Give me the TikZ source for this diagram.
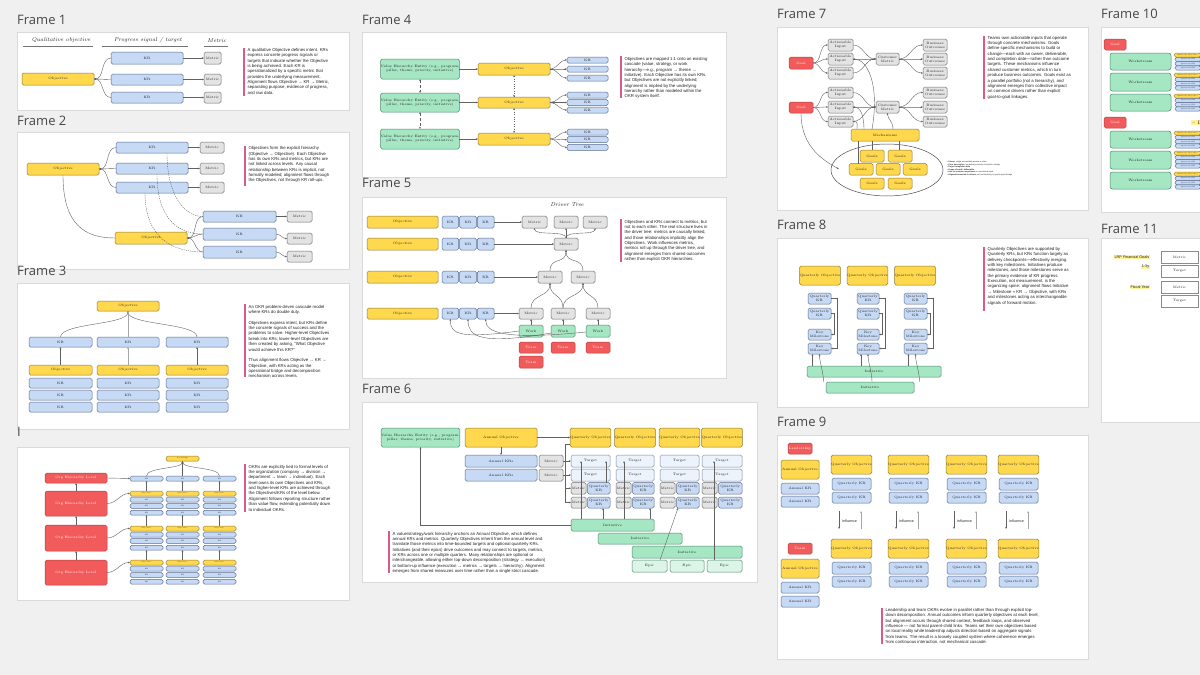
\documentclass[tikz,border=0pt]{standalone}
\usepackage{fontspec}
\newfontfamily\titlefont{Open Sans}
\newfontfamily\descfont{Liberation Sans}
\usetikzlibrary{arrows.meta,calc,shapes.geometric}
\definecolor{bgc}{HTML}{F0F0F0}
\definecolor{pnlb}{HTML}{DADADA}
\definecolor{yelf}{HTML}{FFD84E}
\definecolor{yeld}{HTML}{8C7A36}
\definecolor{bluf}{HTML}{C6D9F5}
\definecolor{blud}{HTML}{5C6C8C}
\definecolor{gryf}{HTML}{E3E3E3}
\definecolor{gryd}{HTML}{6E6E6E}
\definecolor{grnf}{HTML}{A5E6C3}
\definecolor{grnd}{HTML}{4E8C6C}
\definecolor{redf}{HTML}{F25B5B}
\definecolor{redd}{HTML}{B04040}
\definecolor{tgtf}{HTML}{EDF3FD}
\definecolor{epcf}{HTML}{DDF5E8}
\definecolor{pinkb}{HTML}{DB5A86}
\definecolor{hil}{HTML}{FFF29A}
\definecolor{txtc}{HTML}{222222}
\newcommand\tinyf{\fontsize{1.7}{2}\selectfont}
\tikzset{
 bx/.style={draw, rounded corners=1.6pt, inner sep=0pt, outer sep=0pt, line width=0.5pt, align=center, text=txtc, font=\fontsize{3.4}{3.9}\selectfont},
 sobj/.style={bx, fill=yelf, draw=yeld},
 skr/.style={bx, fill=bluf, draw=blud},
 smet/.style={bx, fill=gryf, draw=gryd},
 sgrn/.style={bx, fill=grnf, draw=grnd},
 sred/.style={bx, fill=redf, draw=redd, text=white},
 stgt/.style={bx, fill=tgtf, draw=blud!80},
 sepc/.style={bx, fill=epcf, draw=grnd},
 splain/.style={bx, rounded corners=0pt, fill=white, draw=gryd!80},
 panel/.style={fill=white, draw=pnlb, line width=0.5pt},
 ftitle/.style={anchor=west, inner sep=0pt, text=black!72, font=\titlefont\fontsize{13}{15}\selectfont},
 desc/.style={anchor=north west, inner sep=0pt, align=left, text=txtc, font=\descfont\fontsize{4.3}{5.35}\selectfont},
 dbar/.style={draw=pinkb, line width=1.3pt},
 con/.style={draw=black!62, line width=0.4pt},
 arr/.style={con, -{Stealth[length=2.2pt,width=1.8pt]}},
 darr/.style={con, {Stealth[length=2.2pt,width=1.8pt]}-{Stealth[length=2.2pt,width=1.8pt]}},
 arrthk/.style={draw=black!35, line width=0.9pt, -{Stealth[length=2.2pt,width=1.8pt]}, },
 hdr/.style={inner sep=0pt, text=txtc, font=\itshape\fontsize{5.6}{6}\selectfont},
 hline/.style={draw=black!55, line width=0.8pt},
 hl/.style={fill=hil, inner sep=0.6pt, text=txtc, font=\descfont\fontsize{3.8}{4.5}\selectfont},
}
\newcommand\bx[7]{\node[#2,minimum width={(#5)-(#3)},minimum height={(#6)-(#4)}] (#1) at ({((#3)+(#5))/2},{((#4)+(#6))/2}) {#7};}
\newcommand\descr[6]{\draw[dbar] (#2,#3) -- (#2,#4); \node[desc] (#1) at ({#2+3.5},{#5-1.8}) {#6};}
\begin{document}
\begin{tikzpicture}[x=1pt,y=-1pt]
\useasboundingbox (0,0) rectangle (1200,675);
\fill[bgc] (0,0) rectangle (1200,675);

%% ---------------- Frame 1
\draw[panel] (17,32) rectangle (349,110);
\node[ftitle] (ft1) at (17,20) {Frame 1};
\node[hdr] (h1a) at (61,40.5) {Qualitative objective};
\node[hdr] (h1b) at (148,40.5) {Progress signal / target};
\node[hdr] (h1c) at (217,40.5) {Metric};
\draw[hline] (23,46) -- (93,46);
\draw[hline] (102,46) -- (188,46);
\draw[hline] (204,46) -- (228,46);
\bx{o1}{sobj}{22}{73}{94}{85}{Objective}
\bx{k1a}{skr}{111}{52}{183}{64}{KR}
\bx{k1b}{skr}{111}{74}{183}{85}{KR}
\bx{k1c}{skr}{111}{92}{183}{103}{KR}
\bx{m1a}{smet}{204}{52}{221}{64}{Metric}
\bx{m1b}{smet}{204}{74}{221}{85}{Metric}
\bx{m1c}{smet}{204}{92}{221}{103}{Metric}
\foreach \k in {a,b,c}{\draw[arr] (k1\k.west) to[out=180,in=0] (o1.east); \draw[arr] (k1\k.east) -- (m1\k.west);}
\descr{d1}{244}{48}{96}{50}{A qualitative Objective defines intent. KRs\\express concrete progress signals or\\targets that indicate whether the Objective\\is being achieved. Each KR is\\operationalized by a specific metric that\\provides the underlying measurement.\\Alignment flows Objective → KR → Metric,\\separating purpose, evidence of progress,\\and raw data.}

%% ---------------- Frame 2
\draw[panel] (17,132) rectangle (349,269);
\node[ftitle] (ft2) at (17,120.5) {Frame 2};
\bx{o2a}{sobj}{27}{163}{99}{175}{Objective}
\bx{k2a}{skr}{116}{142}{188}{153}{KR}
\bx{k2b}{skr}{116}{163}{188}{174}{KR}
\bx{k2c}{skr}{116}{182}{188}{193}{KR}
\bx{m2a}{smet}{200}{142}{224}{153}{Metric}
\bx{m2b}{smet}{200}{163}{224}{174}{Metric}
\bx{m2c}{smet}{200}{182}{224}{193}{Metric}
\bx{o2b}{sobj}{115}{232}{187}{244}{Objective}
\bx{k2d}{skr}{203}{211}{276}{222}{KR}
\bx{k2e}{skr}{203}{228}{276}{240}{KR}
\bx{k2f}{skr}{203}{246}{276}{258}{KR}
\bx{m2d}{smet}{287}{211}{312}{222}{Metric}
\bx{m2e}{smet}{287}{233}{312}{244}{Metric}
\bx{m2f}{smet}{287}{251}{312}{262}{Metric}
\foreach \k in {a,b,c}{\draw[arr] (k2\k.west) to[out=180,in=0] (o2a.east); \draw[arr] (k2\k.east) -- (m2\k.west);}
\foreach \k in {d,e,f}{\draw[arr] (k2\k.west) to[out=180,in=0] (o2b.east); \draw[arr] (k2\k.east) to[out=0,in=180] (m2\k.west);}
\draw[con] (o2a.south) .. controls +(0,50) and +(-30,0) .. (o2b.west);
\draw[con,dash pattern=on 1.2pt off 1pt] ($(k2a.south)+(15,0)$) .. controls +(0,40) and +(-20,0) .. (k2d.west);
\draw[con,dash pattern=on 1.2pt off 1pt] ($(k2b.south)+(5,0)$) .. controls +(0,45) and +(-25,0) .. (k2e.west);
\draw[con,dash pattern=on 1.2pt off 1pt] ($(k2c.south)+(-7,0)$) .. controls +(0,45) and +(-30,0) .. (k2f.west);
\descr{d2}{245}{146}{186}{148.3}{Objectives form the explicit hierarchy\\(Objective → Objective). Each Objective\\has its own KRs and metrics, but KRs are\\not linked across levels. Any causal\\relationship between KRs is implicit, not\\formally modeled; alignment flows through\\the Objectives, not through KR roll-ups.}

%% ---------------- Frame 3
\draw[panel] (17,283) rectangle (349,429);
\node[ftitle] (ft3) at (17,271) {Frame 3};
\bx{o3}{sobj}{97}{301}{159}{311}{Objective}
\foreach \n/\xa/\xb in {a/29/92,b/97/159,c/166/228}{
 \bx{k3\n}{skr}{\xa}{337}{\xb}{347}{KR}
 \bx{p3\n}{sobj}{\xa}{365}{\xb}{375}{Objective}
 \bx{k3\n1}{skr}{\xa}{378}{\xb}{388}{KR}
 \bx{k3\n2}{skr}{\xa}{390}{\xb}{400}{KR}
 \bx{k3\n3}{skr}{\xa}{402}{\xb}{412}{KR}
}
\draw[arr] (k3a.north) .. controls +(0,-14) and +(0,14) .. (o3.south);
\draw[arr] (k3c.north) .. controls +(0,-14) and +(0,14) .. (o3.south);
\draw[arrthk] (k3b.north) -- (o3.south);
\draw[arr] (p3a.north) -- (k3a.south);
\draw[arrthk] (p3b.north) -- (k3b.south);
\draw[arr] (p3c.north) -- (k3c.south);
\descr{d3}{245}{304}{377}{306.7}{An OKR problem-driven cascade model\\where KRs do double duty.\\[5.35pt]Objectives express intent, but KRs define\\the concrete signals of success and the\\problems to solve. Higher-level Objectives\\break into KRs; lower-level Objectives are\\then created by asking, “What Objective\\would achieve this KR?”\\[5.35pt]Thus alignment flows Objective → KR →\\Objective, with KRs acting as the\\operational bridge and decomposition\\mechanism across levels.}

%% ---------------- Frame I
\draw[panel] (17,447) rectangle (349,600);
\node[ftitle] (ftI) at (17,432) {I};
\bx{tI}{sobj}{166}{456}{199}{461}{\tinyf Leadership}
\bx{rI1}{sred}{45}{473}{107}{483}{Org Hierarchy Level}
\bx{rI2}{sred}{45}{491}{107}{516}{Org Hierarchy Level}
\bx{rI3}{sred}{45}{525}{107}{551}{Org Hierarchy Level}
\bx{rI4}{sred}{45}{560}{107}{585}{Org Hierarchy Level}
\foreach \n/\xa/\xb in {1/130/163,2/166/199,3/203/236}{
 \bx{kI0\n}{skr}{\xa}{476}{\xb}{481}{\tinyf KR}
 \foreach \g/\ya in {1/491,2/526,3/560}{
  \bx{oI\g\n}{sobj}{\xa}{\ya}{\xb}{\ya+5}{\tinyf Objective}
  \bx{kI\g\n1}{skr}{\xa}{\ya+6}{\xb}{\ya+11}{\tinyf KR}
  \bx{kI\g\n2}{skr}{\xa}{\ya+12.7}{\xb}{\ya+17.3}{\tinyf KR}
  \bx{kI\g\n3}{skr}{\xa}{\ya+19.3}{\xb}{\ya+24}{\tinyf KR}
 }
 \draw[arr] (oI1\n.north) -- (kI0\n.south);
 \draw[arr] (oI2\n.north) -- (kI1\n3.south);
 \draw[arr] (oI3\n.north) -- (kI2\n3.south);
}
\draw[arr] (kI01.north) .. controls +(0,-9) and +(0,8) .. (tI.south);
\draw[arr] (kI02.north) -- (tI.south);
\draw[arr] (kI03.north) .. controls +(0,-9) and +(0,8) .. (tI.south);
\draw[arr] (rI1.east) -- (kI01.west);
\draw[arr] (rI2.east) to[out=0,in=180] (oI11.west);
\draw[arr] (rI3.east) to[out=0,in=180] (oI21.west);
\draw[arr] (rI4.east) to[out=0,in=180] (oI31.west);
\draw[arr] (rI2.north) -- (rI1.south);
\draw[arr] (rI3.north) -- (rI2.south);
\draw[arr] (rI4.north) -- (rI3.south);
\descr{dI}{245}{464}{512}{466.7}{OKRs are explicitly tied to formal levels of\\the organization (company → division →\\department → team → individual). Each\\level owns its own Objectives and KRs,\\and higher-level KRs are achieved through\\the Objectives/KRs of the level below.\\Alignment follows reporting structure rather\\than value flow, extending potentially down\\to individual OKRs.}

%% ---------------- Frame 4
\draw[panel] (362,32) rectangle (726,177);
\node[ftitle] (ft4) at (362,20) {Frame 4};
\foreach \r/\ya/\yb/\oa/\ob in {a/59/79/63/75,b/93/112/97/108,c/129/149/133/145}{
 \bx{g4\r}{sgrn}{384}{\ya}{456}{\yb}{Value Hierarchy Entity (e.g., program,\\pillar, theme, priority, initiative)}
 \bx{o4\r}{sobj}{478}{\oa}{550}{\ob}{Objective}
 \draw[arr] (g4\r.east) -- (o4\r.west);
}
\foreach \r/\i/\ya in {a/1/57,a/2/66,a/3/75,b/1/92,b/2/99.5,b/3/107,c/1/129,c/2/136.7,c/3/144.4}{
 \bx{k4\r\i}{skr}{567}{\ya}{608}{\ya+6}{KR}
 \draw[arr] (o4\r.east) to[out=0,in=180] (k4\r\i.west);
}
\draw[darr,densely dashed] (g4a.south) -- (g4b.north);
\draw[darr,densely dashed] (g4b.south) -- (g4c.north);
\draw[darr,dotted] (o4a.south) -- (o4b.north);
\draw[darr,dotted] (o4b.south) -- (o4c.north);
\descr{d4}{621}{56}{98}{59}{Objectives are mapped 1:1 onto an existing\\cascade (value, strategy, or work\\hierarchy—e.g., program → theme →\\initiative). Each Objective has its own KRs,\\but Objectives are not explicitly linked;\\alignment is implied by the underlying\\hierarchy rather than modeled within the\\OKR system itself.}

%% ---------------- Frame 5
\draw[panel] (362,197) rectangle (726,378);
\node[ftitle] (ft5) at (362,183) {Frame 5};
\node[hdr] (dt5) at (567,204.5) {Driver Tree};
\foreach \r/\ya/\yb in {a/216/228,b/238/250,c/271/283,d/308/319}{
 \bx{o5\r}{sobj}{367}{\ya}{438}{\yb}{Objective}
 \bx{k5\r1}{skr}{442}{\ya}{458.7}{\yb}{KR}
 \bx{k5\r2}{skr}{459.7}{\ya}{476.3}{\yb}{KR}
 \bx{k5\r3}{skr}{477.3}{\ya}{494}{\yb}{KR}
}
\bx{ma1}{smet}{522}{216}{547}{228}{Metric}
\bx{ma2}{smet}{554}{216}{578}{228}{Metric}
\bx{ma3}{smet}{583}{216}{607}{228}{Metric}
\bx{mb}{smet}{554}{238}{578}{250}{Metric}
\bx{mc1}{smet}{538}{271}{562}{283}{Metric}
\bx{mc2}{smet}{571}{271}{595}{283}{Metric}
\foreach \i/\xa/\xb in {1/519/543,2/551/575,3/586/610}{
 \bx{md\i}{smet}{\xa}{308}{\xb}{319}{Metric}
 \bx{w5\i}{sgrn}{\xa}{325}{\xb}{337}{Work}
 \bx{r5\i}{sred}{\xa}{342}{\xb}{353}{Team}
 \draw[arr] (w5\i.north) -- (md\i.south);
}
\bx{r54}{sred}{519}{356}{543}{368}{Team}
\draw[arr] (k5a3.east) -- (ma1.west);
\draw[arr] (k5b3.east) -- (mb.west);
\draw[arr] (k5c3.east) -- (mc1.west);
\draw[arr] (k5d3.east) -- (md1.west);
\draw[arr] (mb.north) .. controls +(0,-8) and +(0,8) .. (ma1.south);
\draw[arr] (mb.north) -- (ma2.south);
\draw[arr] (mb.north) .. controls +(0,-8) and +(0,8) .. (ma3.south);
\draw[arr] (mc1.north) .. controls +(0,-15) and +(0,15) .. (mb.south);
\draw[arr] (mc2.north) .. controls +(0,-15) and +(0,15) .. (mb.south);
\draw[arr] (md1.north) .. controls +(0,-14) and +(0,14) .. (mc1.south);
\draw[arr] (md2.north) .. controls +(0,-14) and +(0,14) .. (mc1.south);
\draw[arr] (md2.north) .. controls +(0,-14) and +(0,14) .. (mc2.south);
\draw[arr] (md3.north) .. controls +(0,-14) and +(0,14) .. (mc2.south);
\draw[arr] (w51.west) .. controls +(-60,8) and +(0,15) .. (k5d1.south);
\draw[arr] ($(w52.west)+(0,2)$) .. controls +(-70,12) and +(0,18) .. (k5d2.south);
\draw[arr] ($(w53.west)+(0,1)$) .. controls +(-80,8) and +(0,14) .. (k5d3.south);
\descr{d5}{621}{219}{262}{221.7}{Objectives and KRs connect to metrics, but\\not to each other. The real structure lives in\\the driver tree: metrics are causally linked,\\and those relationships implicitly align the\\Objectives. Work influences metrics,\\metrics roll up through the driver tree, and\\alignment emerges from shared outcomes\\rather than explicit OKR hierarchies.}

%% ---------------- Frame 6
\draw[panel] (362,402) rectangle (757,582);
\node[ftitle] (ft6) at (362,389) {Frame 6};
\bx{v6}{sgrn}{384}{428}{457}{447}{Value Hierarchy Entity (e.g., program,\\pillar, theme, priority, initiative)}
\bx{ao6}{sobj}{465}{428}{537}{447}{Annual Objective}
\bx{ak6a}{skr}{465}{455}{537}{467}{Annual KRs}
\bx{ak6b}{skr}{465}{469}{537}{481}{Annual KRs}
\bx{am6a}{smet}{539}{455}{563}{467}{Metric}
\bx{am6b}{smet}{539}{469}{563}{481}{Metric}
\foreach \c/\xa/\xb in {1/571/610,2/616/654,3/660/699,4/702/742}{
 \bx{q6\c}{sobj}{\xa}{428}{\xb}{447}{Quarterly Objective}
 \bx{t6\c A}{stgt}{\xa}{455}{\xb}{467}{Target}
 \bx{t6\c B}{stgt}{\xa}{469}{\xb}{481}{Target}
 \bx{qm6\c A}{smet}{\xa}{482.5}{\xa+15}{494}{Metric}
 \bx{qk6\c A}{skr}{\xa+16.5}{482.5}{\xb}{494}{Quarterly\\KR}
 \bx{qm6\c B}{smet}{\xa}{497}{\xa+15}{508}{Metric}
 \bx{qk6\c B}{skr}{\xa+16.5}{497}{\xb}{508}{Quarterly\\KR}
}
\bx{i61}{sgrn}{571}{519}{654}{531}{Initiative}
\bx{i62}{sgrn}{598}{533}{682}{544}{Initiative}
\bx{i63}{sgrn}{632}{546}{742}{558}{Initiative}
\bx{e61}{sepc}{632}{560}{667}{572}{Epic}
\bx{e62}{sepc}{670}{560}{704}{572}{Epic}
\bx{e63}{sepc}{707}{560}{742}{572}{Epic}
\draw[arr] (ao6.east) -- (q61.west);
\draw[arr] (ao6.south) -- (ak6a.north);
\draw[arr] (am6a.east) -- (t61A.west);
\draw[arr] (am6b.east) -- (t61B.west);
\coordinate (bus6) at ($(q61.south west)+(-5,-3)$);
\draw[con] ($(q61.south west)+(0,-3)$) -- (bus6) -- (bus6 |- qm61B.west);
\draw[arr] (bus6 |- qm61A.west) -- (qm61A.west);
\draw[arr] (bus6 |- qm61B.west) -- (qm61B.west);
\draw[arr] (i61.west) -| (v6.south);
\draw[arr] ($(i61.north west)+(10,0)$) -- ($(t61A.west)+(10,0)$);
\draw[arr] ($(qk61A.north east)+(-4,0)$) -- ($(t61A.east)+(-4,0)$);
\draw[arr] ($(i61.north west)+(32,0)$) -- ($(qk61B.south west)+(15.5,0)$);
\draw[arr] ($(i61.north west)+(53,0)$) -- ($(t62A.west)+(8,0)$);
\draw[arr] ($(i61.north west)+(79,0)$) -- ($(qk62B.south west)+(17.5,0)$);
\draw[arr] ($(e61.north east)+(-7,0)$) -- ($(qk63B.south west)+(1.5,0)$);
\draw[arr] ($(e63.north west)+(7,0)$) -- ($(t64A.west)+(12,0)$);
\descr{d6}{389}{531}{573}{533.7}{A value/strategy/work hierarchy anchors an Annual Objective, which defines\\annual KRs and metrics. Quarterly Objectives inherit from the annual level and\\translate those metrics into time-bounded targets and optional quarterly KRs.\\Initiatives (and their epics) drive outcomes and may connect to targets, metrics,\\or KRs across one or multiple quarters. Many relationships are optional or\\interchangeable, allowing either top-down decomposition (strategy → execution)\\or bottom-up influence (execution → metrics → targets → hierarchy). Alignment\\emerges from shared measures over time rather than a single strict cascade.}

%% ---------------- Frame 7
\draw[panel] (777,27) rectangle (1088,210);
\node[ftitle] (ft7) at (777,14) {Frame 7};
\bx{g7a}{sred}{789}{57}{813}{69}{Goal}
\bx{g7b}{sred}{789}{102}{813}{113}{Goal}
\foreach \i/\ya/\yb in {1/39/51,2/53/65,3/67/79,4/87/98,5/101/113,6/116/127}{
 \bx{a7\i}{smet}{828}{\ya}{853}{\yb}{Actionable\\Input}
 \bx{b7\i}{smet}{923}{\ya}{947}{\yb}{Business\\Outcomes}
}
\bx{c7a}{smet}{876}{53}{899}{65}{Customer\\Metric}
\bx{c7b}{smet}{876}{101}{899}{113}{Customer\\Metric}
\foreach \i in {1,2,3}{\draw[arr] (g7a.east) to[out=0,in=180] (a7\i.west); \draw[arr] (a7\i.east) to[out=0,in=180] (c7a.west); \draw[arr] (c7a.east) to[out=0,in=180] (b7\i.west);}
\foreach \i in {4,5,6}{\draw[arr] (g7b.east) to[out=0,in=180] (a7\i.west); \draw[arr] (a7\i.east) to[out=0,in=180] (c7b.west); \draw[arr] (c7b.east) to[out=0,in=180] (b7\i.west);}
\node[ellipse, draw=black!70, line width=0.5pt, minimum width=112, minimum height=52, inner sep=0pt] (ell) at (887,170) {};
\bx{mech}{sobj}{851}{129}{919}{141}{Mechanisms}
\bx{gl1}{sobj}{860}{150}{884}{162}{Goals}
\bx{gl2}{sobj}{888}{150}{912}{162}{Goals}
\bx{gl3}{sobj}{849}{163.5}{873}{175}{Goals}
\bx{gl4}{sobj}{876}{163.5}{900}{175}{Goals}
\bx{gl5}{sobj}{903}{163.5}{927}{175}{Goals}
\bx{gl6}{sobj}{860}{178}{884}{189}{Goals}
\bx{gl7}{sobj}{888}{178}{912}{189}{Goals}
\draw[arr] ($(mech.north west)+(21,0)$) .. controls +(8,-45) and +(14,0) .. (a72.east);
\draw[arr] ($(mech.north west)+(13,0)$) .. controls +(0,-12) and +(8,0) .. (a75.east);
\draw[arr] ($(mech.north west)+(6,0)$) .. controls +(0,-5) and +(5,0) .. (a76.east);
\draw[arr] ($(mech.north)+(8,0)$) .. controls +(0,-8) and +(0,6) .. (c7b.south);
\draw[con] ($(mech.south west)+(7,0)$) -- ($(gl3.north west)+(9,0)$);
\draw[con] ($(mech.south west)+(21,0)$) -- ($(gl1.north west)+(12,0)$);
\draw[con] ($(mech.south west)+(48,0)$) -- ($(gl2.north west)+(11,0)$);
\coordinate (ellt) at ($(ell.west)+(8,-1)$);
\draw[arr] (g7b.south) .. controls +(0,35) and +(-14,-8) .. (ellt);
\node[anchor=north west, inner sep=0pt, align=left, text=txtc, font=\descfont\fontsize{2}{2.55}\selectfont] (l7) at (947,161) {• \textbf{Owner:} single accountable person or team\\• \textbf{Clear description:} something concrete to build or change\\• \textbf{Target completion date}\\• \textbf{Scope of work / deliverable}\\• \textbf{Link to customer experience} or operational input\\• \textbf{Aligned/connected to drivers,} not via hierarchy or goal-to-goal linkage};
\descr{d7}{984}{36}{99}{37.7}{Teams own actionable inputs that operate\\through concrete mechanisms. Goals\\define specific mechanisms to build or\\change—each with an owner, deliverable,\\and completion date—rather than outcome\\targets. These mechanisms influence\\shared customer metrics, which in turn\\produce business outcomes. Goals exist as\\a parallel portfolio (not a hierarchy), and\\alignment emerges from collective impact\\on common drivers rather than explicit\\goal-to-goal linkages.}

%% ---------------- Frame 8
\draw[panel] (777,238) rectangle (1088,407);
\node[ftitle] (ft8) at (777,225) {Frame 8};
\foreach \j/\qa/\qb/\ka/\kb in {1/801/839/808/831,2/848/887/857/879,3/896/934/904/927}{
 \bx{q8\j}{sobj}{\qa}{266}{\qb}{285}{Quarterly Objective}
 \bx{qk8\j A}{skr}{\ka}{293}{\kb}{304}{Quarterly\\KR}
 \bx{qk8\j B}{skr}{\ka}{308}{\kb}{319}{Quarterly\\KR}
 \bx{km8\j A}{skr}{\ka}{329}{\kb}{340}{Key\\Milestone}
 \bx{km8\j B}{skr}{\ka}{343}{\kb}{354}{Key\\Milestone}
}
\bx{in8a}{sgrn}{807}{366}{941}{377}{Initiative}
\bx{in8b}{sgrn}{826}{382}{914}{393}{Initiative}
\foreach \j in {1,2,3}{
 \draw[arr] (qk8\j A.east) -- ++(6,0) |- (km8\j B.east);
 \draw[arr] (qk8\j B.east) -- ++(3.5,0) |- (km8\j A.east);
 \draw[arr] ($(km8\j B.south)+(-7,12)$) -- ($(km8\j B.south)+(-7,0)$);
 \draw[arr] ($(km8\j B.south)+(4,28)$) .. controls +(0,-10) and +(0,8) .. ($(km8\j B.south)+(0,0)$);
}
\descr{d8}{984}{247}{311}{249}{Quarterly Objectives are supported by\\Quarterly KRs, but KRs function largely as\\delivery checkpoints—effectively merging\\with key milestones. Initiatives produce\\milestones, and those milestones serve as\\the primary evidence of KR progress.\\Execution, not measurement, is the\\organizing spine: alignment flows Initiative\\→ Milestone ≈ KR → Objective, with KRs\\and milestones acting as interchangeable\\signals of forward motion.}

%% ---------------- Frame 9
\draw[panel] (777,435) rectangle (1088,659);
\node[ftitle] (ft9) at (777,422) {Frame 9};
\bx{l9}{sred}{788}{443}{812}{454}{Leadership}
\bx{ao9a}{sobj}{781}{460}{819}{479}{Annual Objective}
\bx{ak9a}{skr}{781}{483}{819}{494}{Annual KR}
\bx{ak9b}{skr}{781}{496}{819}{507}{Annual KR}
\bx{t9}{sred}{788}{543}{812}{554}{Team}
\bx{ao9b}{sobj}{781}{559}{819}{578}{Annual Objective}
\bx{ak9c}{skr}{781}{582}{819}{593}{Annual KR}
\bx{ak9d}{skr}{781}{596}{819}{607}{Annual KR}
\foreach \c/\xa/\xb in {1/832/871,2/889/928,3/947/986,4/999/1038}{
 \bx{q9u\c}{sobj}{\xa}{455}{\xb}{474}{Quarterly Objective}
 \bx{qk9u\c A}{skr}{\xa}{478}{\xb}{490}{Quarterly KR}
 \bx{qk9u\c B}{skr}{\xa}{492}{\xb}{503}{Quarterly KR}
 \bx{q9l\c}{sobj}{\xa}{539}{\xb}{558}{Quarterly Objective}
 \bx{qk9l\c A}{skr}{\xa}{562}{\xb}{574}{Quarterly KR}
 \bx{qk9l\c B}{skr}{\xa}{576}{\xb}{587}{Quarterly KR}
 \draw[arr] ($(qk9u\c B.south)+(-12.5,8)$) -- ($(q9l\c.north)+(-12.5,-10)$);
 \draw[arrthk] ($(q9l\c.north)+(9.5,-10)$) -- ($(qk9u\c B.south)+(9.5,8)$);
 \node[inner sep=0pt, text=txtc, font=\descfont\fontsize{3.6}{4}\selectfont] (inf\c) at ($(qk9u\c B.south)!0.5!(q9l\c.north)+(-2,0)$) {Influence};
}
\descr{d9}{882}{608}{644}{610}{Leadership and team OKRs evolve in parallel rather than through explicit top-\\down decomposition. Annual outcomes inform quarterly objectives at each level,\\but alignment occurs through shared context, feedback loops, and observed\\influence — not formal parent-child links. Teams set their own objectives based\\on local reality while leadership adjusts direction based on aggregate signals\\from teams. The result is a loosely coupled system where coherence emerges\\from continuous interaction, not mechanical cascade.}

%% ---------------- Frame 10
\draw[panel] (1101,27) rectangle (1210,212);
\node[ftitle] (ft10) at (1101,14) {Frame 10};
\bx{g10a}{sred}{1104}{39}{1126}{50}{Goal}
\bx{g10b}{sred}{1104}{117}{1126}{128}{Goal}
\foreach \w/\ya/\yb in {1/53/70,2/73/91,3/94/111,4/131/148,5/151/169,6/172/189}{
 \node[sgrn, rounded corners=2.5pt, minimum width=61, minimum height={\yb-\ya}] (ws\w) at ({1140.5},{(\ya+\yb)/2}) {Workstream};
 \bx{sq\w}{sobj}{1174}{\ya}{1200.8}{\ya+4}{\tinyf Quarterly Objective}
 \bx{sk\w A}{skr}{1175}{\ya+4.3}{1200.8}{\ya+8.5}{\tinyf Quarterly KR}
 \bx{sk\w B}{skr}{1175}{\ya+8.6}{1200.8}{\ya+12.8}{\tinyf Quarterly KR}
 \bx{sk\w C}{skr}{1175}{\ya+12.9}{1200.8}{\ya+17}{\tinyf Quarterly KR}
}
\node[hl, anchor=west, font=\fontsize{5}{6}\selectfont] (lx10) at (1191,122.5) {– L};

%% ---------------- Frame 11
\draw[panel] (1101,238) rectangle (1210,422);
\node[ftitle] (ft11) at (1101,229) {Frame 11};
\node[hl, anchor=east] (lrp) at (1150,257) {LRP Financial Goals};
\node[hl, anchor=east] (lrpy) at (1150,267) {1-3y};
\node[hl, anchor=east] (fy) at (1150,287) {Fiscal Year};
\bx{f11a}{splain}{1161}{251}{1198}{263}{Metric}
\bx{f11b}{splain}{1161}{265}{1198}{277}{Target}
\bx{f11c}{splain}{1161}{281}{1198}{293}{Metric}
\bx{f11d}{splain}{1161}{295}{1198}{307}{Target}
\end{tikzpicture}
\end{document}
